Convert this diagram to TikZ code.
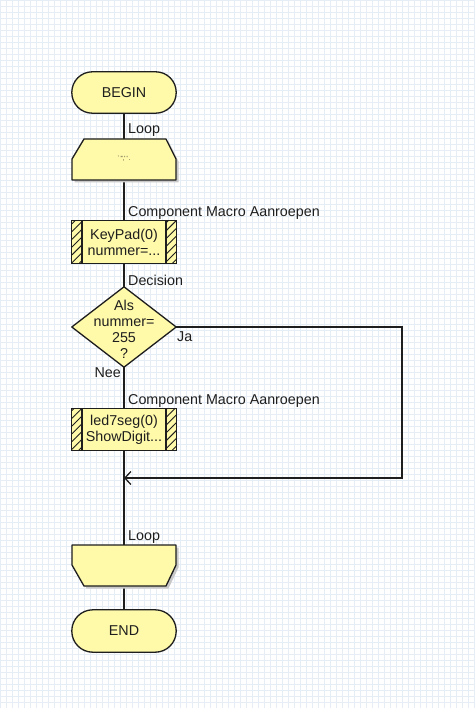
\documentclass[tikz,border=0pt]{standalone}
\usepackage{fontspec}
\setmainfont{Liberation Sans}
\usetikzlibrary{patterns.meta,arrows.meta}
\definecolor{fillc}{HTML}{FFF9AA}
\definecolor{gridc}{HTML}{E6EDF5}
\definecolor{linec}{HTML}{1E1E1E}
\definecolor{shadc}{HTML}{C8C8C8}
\tikzset{
  txt/.style={font=\fontsize{14.3}{16}\selectfont, text=linec},
  lbl/.style={txt, inner sep=0pt},
  frame/.style={draw=none, minimum width=104pt, minimum height=#1, inner sep=0pt},
  fcshape/.style={fill=fillc, draw=linec, line width=1.3pt, line join=round},
  shad/.style={fill=shadc, draw=none},
  conn/.style={draw=linec, line width=1.3pt},
  hatch/.style={pattern={Lines[angle=45,distance=5.5pt,line width=0.9pt]}, pattern color=linec}
}
\begin{document}
\begin{tikzpicture}[x=1pt,y=-1pt]
\useasboundingbox (0,0) rectangle (474,708);
\fill[white] (0,0) rectangle (474,708);
\foreach \i in {0,6,...,474} \draw[gridc, line width=0.5pt] (\i,0) -- (\i,708);
\foreach \j in {0,6,...,708} \draw[gridc, line width=0.5pt] (0,\j) -- (474,\j);

% frames (named nodes)
\node[frame=41pt] (begin) at (124,92.5) {};
\node[frame=41pt] (loopa) at (124,159.5) {};
\node[frame=42pt] (keypad) at (124,242) {};
\node[frame=80pt] (dec) at (124,327) {};
\node[frame=41pt] (led) at (124,429.5) {};
\node[frame=41pt] (loopb) at (124,565.5) {};
\node[frame=42pt] (end) at (124,631) {};
\coordinate (jr) at (402,327);
\coordinate (jb) at (402,478);
\coordinate (merge) at (124,478);

% connectors
\draw[conn] (begin.south) -- (loopa.north);
\draw[conn] (loopa.south) -- (keypad.north);
\draw[conn] (keypad.south) -- (dec.north);
\draw[conn] (dec.south) -- (led.north);
\draw[conn] (led.south) -- (loopb.north);
\draw[conn] (loopb.south) -- (end.north);
\draw[conn, -{Straight Barb[length=6pt,width=13pt,line width=1.3pt]}] (dec.east) -- (jr) -- (jb) -- (merge);

% shadows
\begin{scope}[shift={(2.5,2.5)}]
\fill[shad, rounded corners=20.5pt] (begin.north west) rectangle (begin.south east);
\fill[shad] (84,139) -- (166,139) -- (176,159) -- (176,180) -- (72,180) -- (72,159) -- cycle;
\fill[shad] (keypad.north west) rectangle (keypad.south east);
\fill[shad] (dec.north) -- (dec.east) -- (dec.south) -- (dec.west) -- cycle;
\fill[shad] (led.north west) rectangle (led.south east);
\fill[shad] (72,545) -- (176,545) -- (176,565) -- (166,586) -- (84,586) -- (72,565) -- cycle;
\fill[shad, rounded corners=21pt] (end.north west) rectangle (end.south east);
\end{scope}

% shapes
\draw[fcshape, rounded corners=20.5pt] (begin.north west) rectangle (begin.south east);
\node[txt] at (begin) {BEGIN};
\draw[fcshape] (84,139) -- (166,139) -- (176,159) -- (176,180) -- (72,180) -- (72,159) -- cycle;
\node[txt, font=\fontsize{6}{6}\selectfont] at (124,159) {\textasciigrave\,\textquotesingle\textquotesingle,\textquotesingle\,\textquotesingle\,.};

\draw[fcshape] (keypad.north west) rectangle (keypad.south east);
\fill[hatch] (72,221) rectangle (82,263);
\fill[hatch] (166,221) rectangle (176,263);
\draw[fcshape, fill=none] (keypad.north west) rectangle (keypad.south east);
\draw[conn] (82,221) -- (82,263) (166,221) -- (166,263);
\node[txt, align=center] at (keypad) {KeyPad(0)\\nummer=...};

\draw[fcshape] (dec.north) -- (dec.east) -- (dec.south) -- (dec.west) -- cycle;
\node[txt, align=center] at (124,329) {Als\\nummer=\\255\\?};

\draw[fcshape] (led.north west) rectangle (led.south east);
\fill[hatch] (72,409) rectangle (82,450);
\fill[hatch] (166,409) rectangle (176,450);
\draw[fcshape, fill=none] (led.north west) rectangle (led.south east);
\draw[conn] (82,409) -- (82,450) (166,409) -- (166,450);
\node[txt, align=center] at (led) {led7seg(0)\\ShowDigit...};

\draw[fcshape] (72,545) -- (176,545) -- (176,565) -- (166,586) -- (84,586) -- (72,565) -- cycle;

\draw[fcshape, rounded corners=21pt] (end.north west) rectangle (end.south east);
\node[txt] at (end) {END};

% labels
\node[lbl, anchor=west] at (128,130) {Loop};
\node[lbl, anchor=west] at (128,213) {Component Macro Aanroepen};
\node[lbl, anchor=west] at (128,280) {Decision};
\node[lbl, anchor=west] at (177,337) {Ja};
\node[lbl, anchor=east] at (121,373) {Nee};
\node[lbl, anchor=west] at (128,401) {Component Macro Aanroepen};
\node[lbl, anchor=west] at (128,537) {Loop};
\end{tikzpicture}
\end{document}
